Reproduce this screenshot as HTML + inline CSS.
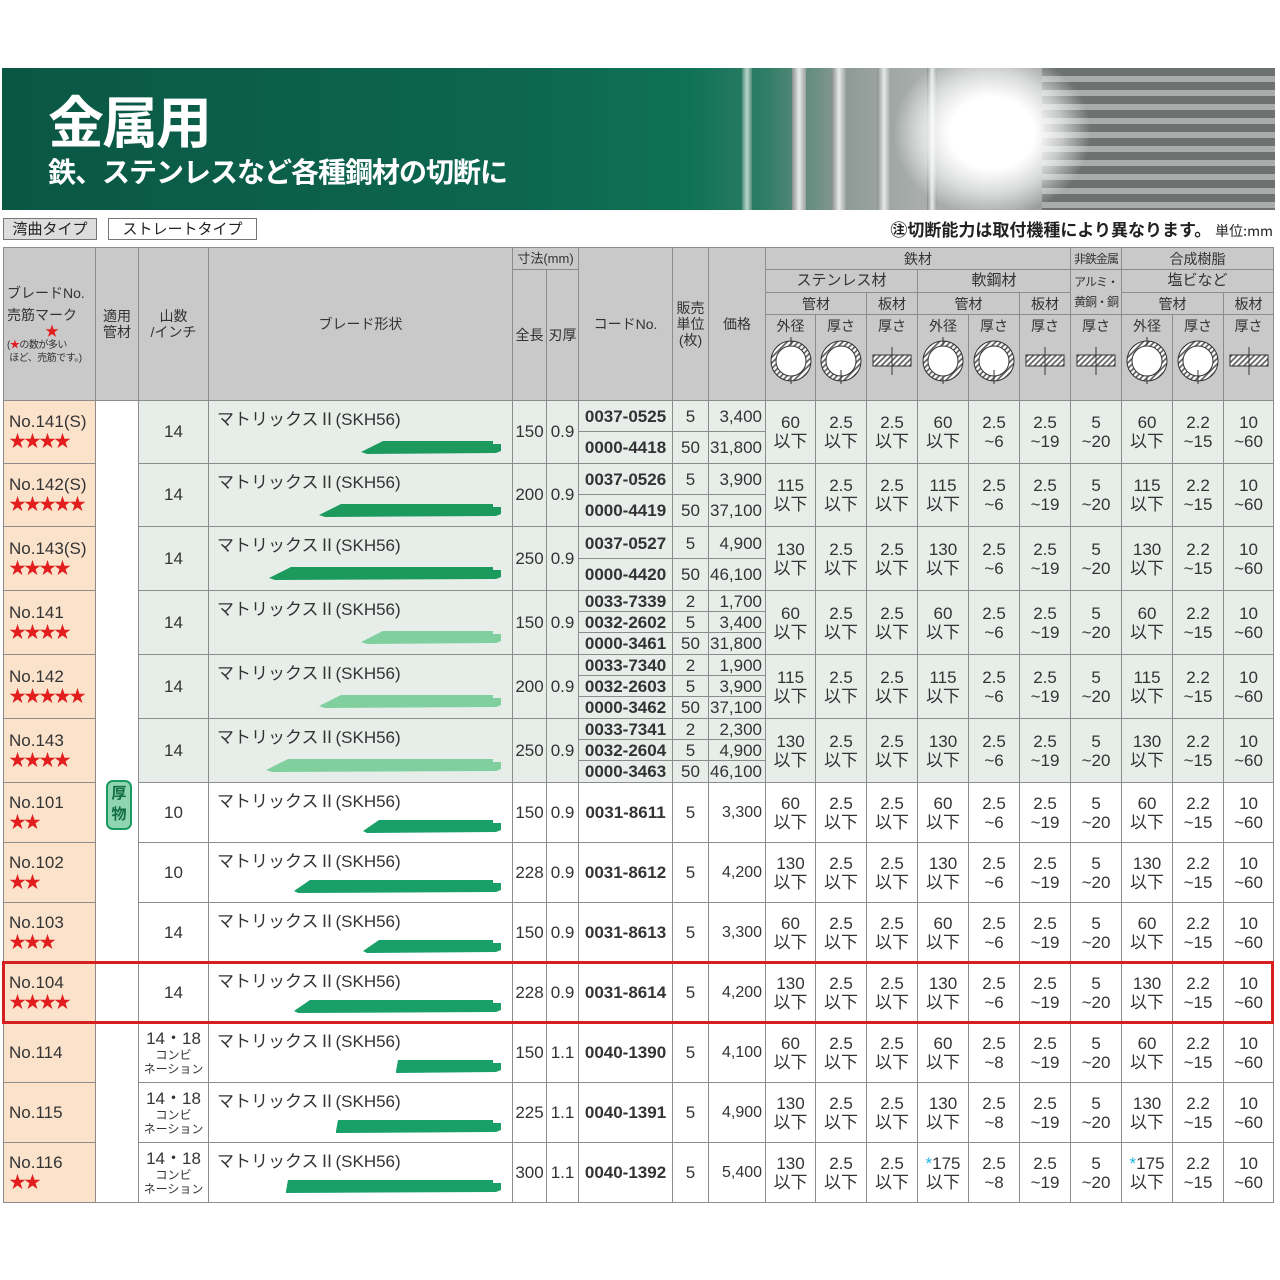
<!DOCTYPE html>
<html><head><meta charset="utf-8">
<style>
html,body{margin:0;padding:0;background:#fff;width:1280px;height:1280px;overflow:hidden;position:relative;font-family:"Liberation Sans","Noto Sans CJK JP",sans-serif;}
.banner{position:absolute;left:2px;top:68px;width:1273px;height:142px;background:linear-gradient(90deg,#0a5744 0%,#0d6650 40%,#0f7254 54%,#2f7d66 60%,#8d9995 66%,#a9aeac 72%,#9ea3a1 80%,#7e8281 88%,#8b8f8e 100%);overflow:hidden}
.hl{position:absolute;left:1040px;top:0;width:233px;height:142px;background:repeating-linear-gradient(180deg,#6d7170 0px,#6d7170 8px,#a8acab 8px,#a8acab 14px)}
.pipe{position:absolute;top:0;height:142px;width:14px;background:linear-gradient(90deg,#8a8f8d,#e6eae8,#9aa09d)}
.spot{position:absolute;left:890px;top:-20px;width:200px;height:170px;border-radius:50%;background:radial-gradient(#fff 0%,#fff 30%,rgba(255,255,255,.6) 50%,rgba(255,255,255,0) 70%)}
.t1{position:absolute;left:46px;top:20px;color:#fff;font-size:56px;font-weight:bold;font-family:"Noto Sans CJK JP",sans-serif;line-height:64px;letter-spacing:-2px}
.t2{position:absolute;left:46px;top:86px;color:#fff;font-size:28px;font-weight:bold;font-family:"Noto Sans CJK JP",sans-serif;line-height:34px;letter-spacing:-1px}
.btn{position:absolute;top:218px;height:20px;line-height:20px;border:1px solid #777;font-size:15px;text-align:center;color:#222;font-family:"Noto Sans CJK JP",sans-serif}
.note{position:absolute;top:216px;right:7px;font-size:17px;font-weight:bold;color:#222;font-family:"Noto Sans CJK JP",sans-serif;white-space:nowrap}
table{position:absolute;left:3px;top:247px;border-collapse:collapse;table-layout:fixed;width:1270px}
td,th{border:1px solid #8c8c8c;padding:0;text-align:center;vertical-align:middle;color:#333;font-weight:normal;font-family:"Liberation Sans","Noto Sans CJK JP",sans-serif;overflow:hidden}
th{background:#c9c9c9;font-size:14px;line-height:16px;white-space:nowrap}
td{font-size:17px}
.g td{background:#e7eee9}
td.no{background:#fbe2cb;text-align:left;padding-left:5px;font-size:17px;line-height:20px;vertical-align:middle}
.st{color:#e21d1d;font-size:17px;letter-spacing:-2px}
.v{line-height:19px;font-size:17px}
.bc{position:relative;text-align:left;vertical-align:top}
.bn{position:absolute;left:8px;top:4px;font-size:17px;white-space:nowrap}
.bl{position:absolute;left:0;width:300px;height:18px}
.code{font-weight:bold;font-size:17px}
.sub{border-bottom:1px solid #8c8c8c;box-sizing:border-box}
.sub:last-child{border-bottom:none}
.s2{height:31px;line-height:31px}
.s3{height:21px;line-height:21px}
.pr{text-align:right;padding-right:3px;font-size:16px}
.combo{font-size:17px;line-height:19px}
.combo small{font-size:12px;line-height:14px;display:block;font-family:"Noto Sans CJK JP",sans-serif}
.red{position:absolute;left:2px;top:961px;width:1266px;height:57px;border:3px solid #d61f1f}
.badge{position:absolute;left:106px;top:780px;width:22px;height:46px;border:2px solid #1a9a62;border-radius:7px;background:#8fd6b0;color:#0f6b42;font-size:15px;font-weight:bold;line-height:21px;text-align:center;font-family:"Noto Sans CJK JP",sans-serif}
.star{color:#1db5e0}
.ic{vertical-align:top;padding-top:3px}
.ic svg{display:block;margin:2px auto 0}
</style></head><body>
<svg width="0" height="0" style="position:absolute"><defs><pattern id="h" width="4" height="4" patternUnits="userSpaceOnUse" patternTransform="rotate(45)"><rect width="4" height="4" fill="#fff"/><line x1="1" y1="0" x2="1" y2="4" stroke="#555" stroke-width="1.6"/></pattern></defs></svg>

<div class="banner"><div class="hl"></div>
<div class="pipe" style="left:740px;width:10px;background:linear-gradient(90deg,#4f8c78,#b9d6cc,#4f8c78)"></div>
<div class="pipe" style="left:790px"></div><div class="pipe" style="left:830px"></div><div class="pipe" style="left:875px"></div><div class="pipe" style="left:925px;width:10px"></div>
<div class="spot"></div><div class="t1">金属用</div><div class="t2">鉄、ステンレスなど各種鋼材の切断に</div></div>
<div class="btn" style="left:3px;width:92px;background:#ddd">湾曲タイプ</div>
<div class="btn" style="left:108px;width:147px;background:#fff">ストレートタイプ</div>
<div class="note">㊟切断能力は取付機種により異なります。 <span style="font-size:14px;font-weight:normal">単位:mm</span></div>

<table>
<colgroup><col style="width:92px"><col style="width:43px"><col style="width:70px"><col style="width:304px"><col style="width:34px"><col style="width:32px"><col style="width:94px"><col style="width:36px"><col style="width:57px"><col style="width:50px"><col style="width:51px"><col style="width:51px"><col style="width:51px"><col style="width:51px"><col style="width:51px"><col style="width:51px"><col style="width:51px"><col style="width:51px"><col style="width:50px"></colgroup>
<tr style="height:22px">
<th rowspan="4" style="text-align:left;padding-left:3px;font-size:14px;line-height:18px">ブレードNo.<br><span style="display:inline-block;margin-top:4px">売筋マーク</span><br><span class="st" style="display:block;text-align:center;font-size:14px;line-height:15px">★</span><span style="font-size:10px;line-height:13px;display:block;letter-spacing:-0.5px">(<span style="color:#e21d1d">★</span>の数が多い<br>&nbsp;ほど、売筋です。)</span></th>
<th rowspan="4">適用<br>管材</th>
<th rowspan="4">山数<br>/インチ</th>
<th rowspan="4">ブレード形状</th>
<th colspan="2" style="font-size:13px">寸法(mm)</th>
<th rowspan="4">コードNo.</th>
<th rowspan="4">販売<br>単位<br>(枚)</th>
<th rowspan="4">価格</th>
<th colspan="6">鉄材</th>
<th style="font-size:12px;letter-spacing:-1px">非鉄金属</th>
<th colspan="3">合成樹脂</th>
</tr>
<tr style="height:23px">
<th rowspan="3">全長</th><th rowspan="3">刃厚</th>
<th colspan="3" style="font-size:15px">ステンレス材</th><th colspan="3" style="font-size:15px">軟鋼材</th>
<th rowspan="2" style="font-size:12px;line-height:20px;letter-spacing:-1px">アルミ・<br>黄銅・銅</th>
<th colspan="3" style="font-size:15px">塩ビなど</th>
</tr>
<tr style="height:22px">
<th colspan="2">管材</th><th>板材</th><th colspan="2">管材</th><th>板材</th><th colspan="2">管材</th><th>板材</th>
</tr>
<tr style="height:86px">
<th class="ic">外径<svg width="44" height="48"><circle cx="22" cy="25" r="20" fill="url(#h)" stroke="#333"/><circle cx="22" cy="25" r="15" fill="#fff" stroke="#333"/><line x1="22" y1="1" x2="22" y2="9" stroke="#333"/><line x1="22" y1="42" x2="22" y2="48" stroke="#333"/></svg></th>
<th class="ic">厚さ<svg width="44" height="48"><circle cx="22" cy="25" r="20" fill="url(#h)" stroke="#333"/><circle cx="22" cy="25" r="15" fill="#fff" stroke="#333"/><line x1="22" y1="34" x2="22" y2="48" stroke="#333"/></svg></th>
<th class="ic">厚さ<svg width="44" height="48"><rect x="3" y="19" width="38" height="11" fill="url(#h)" stroke="#333"/><line x1="22" y1="11" x2="22" y2="39" stroke="#333"/></svg></th>
<th class="ic">外径<svg width="44" height="48"><circle cx="22" cy="25" r="20" fill="url(#h)" stroke="#333"/><circle cx="22" cy="25" r="15" fill="#fff" stroke="#333"/><line x1="22" y1="1" x2="22" y2="9" stroke="#333"/><line x1="22" y1="42" x2="22" y2="48" stroke="#333"/></svg></th>
<th class="ic">厚さ<svg width="44" height="48"><circle cx="22" cy="25" r="20" fill="url(#h)" stroke="#333"/><circle cx="22" cy="25" r="15" fill="#fff" stroke="#333"/><line x1="22" y1="34" x2="22" y2="48" stroke="#333"/></svg></th>
<th class="ic">厚さ<svg width="44" height="48"><rect x="3" y="19" width="38" height="11" fill="url(#h)" stroke="#333"/><line x1="22" y1="11" x2="22" y2="39" stroke="#333"/></svg></th>
<th class="ic">厚さ<svg width="44" height="48"><rect x="3" y="19" width="38" height="11" fill="url(#h)" stroke="#333"/><line x1="22" y1="11" x2="22" y2="39" stroke="#333"/></svg></th>
<th class="ic">外径<svg width="44" height="48"><circle cx="22" cy="25" r="20" fill="url(#h)" stroke="#333"/><circle cx="22" cy="25" r="15" fill="#fff" stroke="#333"/><line x1="22" y1="1" x2="22" y2="9" stroke="#333"/><line x1="22" y1="42" x2="22" y2="48" stroke="#333"/></svg></th>
<th class="ic">厚さ<svg width="44" height="48"><circle cx="22" cy="25" r="20" fill="url(#h)" stroke="#333"/><circle cx="22" cy="25" r="15" fill="#fff" stroke="#333"/><line x1="22" y1="34" x2="22" y2="48" stroke="#333"/></svg></th>
<th class="ic">厚さ<svg width="44" height="48"><rect x="3" y="19" width="38" height="11" fill="url(#h)" stroke="#333"/><line x1="22" y1="11" x2="22" y2="39" stroke="#333"/></svg></th>
</tr>

<tr class="g" style="height:63px">
<td class="no">No.141(S)<br><span class="st">★★★★</span></td>
<td rowspan="13" style="background:#fff"></td>
<td>14</td>
<td class="bc"><span class="bn">マトリックスⅡ(SKH56)</span><svg class="bl" style="top:37px" viewBox="0 0 300 18"><polygon points="152,14 174,3 284,3 284,6 292,6 292,13 287,15 158,16" fill="#1c9a5e"/></svg></td>
<td>150</td><td>0.9</td>
<td class="code"><div class="sub s2">0037-0525</div><div class="sub s2">0000-4418</div></td>
<td><div class="sub s2">5</div><div class="sub s2">50</div></td>
<td style="padding:0"><div class="sub s2" style="text-align:right;padding-right:3px">3,400</div><div class="sub s2" style="text-align:right;padding-right:3px">31,800</div></td>
<td class="v">60<br>以下</td><td class="v">2.5<br>以下</td><td class="v">2.5<br>以下</td><td class="v">60<br>以下</td><td class="v">2.5<br>~6</td><td class="v">2.5<br>~19</td><td class="v">5<br>~20</td><td class="v">60<br>以下</td><td class="v">2.2<br>~15</td><td class="v">10<br>~60</td>
</tr>
<tr class="g" style="height:63px">
<td class="no">No.142(S)<br><span class="st">★★★★★</span></td>
<td>14</td>
<td class="bc"><span class="bn">マトリックスⅡ(SKH56)</span><svg class="bl" style="top:37px" viewBox="0 0 300 18"><polygon points="110,14 132,3 284,3 284,6 292,6 292,13 287,15 116,16" fill="#1c9a5e"/></svg></td>
<td>200</td><td>0.9</td>
<td class="code"><div class="sub s2">0037-0526</div><div class="sub s2">0000-4419</div></td>
<td><div class="sub s2">5</div><div class="sub s2">50</div></td>
<td style="padding:0"><div class="sub s2" style="text-align:right;padding-right:3px">3,900</div><div class="sub s2" style="text-align:right;padding-right:3px">37,100</div></td>
<td class="v">115<br>以下</td><td class="v">2.5<br>以下</td><td class="v">2.5<br>以下</td><td class="v">115<br>以下</td><td class="v">2.5<br>~6</td><td class="v">2.5<br>~19</td><td class="v">5<br>~20</td><td class="v">115<br>以下</td><td class="v">2.2<br>~15</td><td class="v">10<br>~60</td>
</tr>
<tr class="g" style="height:64px">
<td class="no">No.143(S)<br><span class="st">★★★★</span></td>
<td>14</td>
<td class="bc"><span class="bn">マトリックスⅡ(SKH56)</span><svg class="bl" style="top:37px" viewBox="0 0 300 18"><polygon points="60,14 82,3 284,3 284,6 292,6 292,13 287,15 66,16" fill="#1c9a5e"/></svg></td>
<td>250</td><td>0.9</td>
<td class="code"><div class="sub s2">0037-0527</div><div class="sub s2">0000-4420</div></td>
<td><div class="sub s2">5</div><div class="sub s2">50</div></td>
<td style="padding:0"><div class="sub s2" style="text-align:right;padding-right:3px">4,900</div><div class="sub s2" style="text-align:right;padding-right:3px">46,100</div></td>
<td class="v">130<br>以下</td><td class="v">2.5<br>以下</td><td class="v">2.5<br>以下</td><td class="v">130<br>以下</td><td class="v">2.5<br>~6</td><td class="v">2.5<br>~19</td><td class="v">5<br>~20</td><td class="v">130<br>以下</td><td class="v">2.2<br>~15</td><td class="v">10<br>~60</td>
</tr>
<tr class="g" style="height:63px">
<td class="no">No.141<br><span class="st">★★★★</span></td>
<td>14</td>
<td class="bc"><span class="bn">マトリックスⅡ(SKH56)</span><svg class="bl" style="top:37px" viewBox="0 0 300 18"><polygon points="152,14 174,3 284,3 284,6 292,6 292,13 287,15 158,16" fill="#7fcf9f"/></svg></td>
<td>150</td><td>0.9</td>
<td class="code"><div class="sub s3">0033-7339</div><div class="sub s3">0032-2602</div><div class="sub s3">0000-3461</div></td>
<td><div class="sub s3">2</div><div class="sub s3">5</div><div class="sub s3">50</div></td>
<td style="padding:0"><div class="sub s3" style="text-align:right;padding-right:3px">1,700</div><div class="sub s3" style="text-align:right;padding-right:3px">3,400</div><div class="sub s3" style="text-align:right;padding-right:3px">31,800</div></td>
<td class="v">60<br>以下</td><td class="v">2.5<br>以下</td><td class="v">2.5<br>以下</td><td class="v">60<br>以下</td><td class="v">2.5<br>~6</td><td class="v">2.5<br>~19</td><td class="v">5<br>~20</td><td class="v">60<br>以下</td><td class="v">2.2<br>~15</td><td class="v">10<br>~60</td>
</tr>
<tr class="g" style="height:64px">
<td class="no">No.142<br><span class="st">★★★★★</span></td>
<td>14</td>
<td class="bc"><span class="bn">マトリックスⅡ(SKH56)</span><svg class="bl" style="top:37px" viewBox="0 0 300 18"><polygon points="110,14 132,3 284,3 284,6 292,6 292,13 287,15 116,16" fill="#7fcf9f"/></svg></td>
<td>200</td><td>0.9</td>
<td class="code"><div class="sub s3">0033-7340</div><div class="sub s3">0032-2603</div><div class="sub s3">0000-3462</div></td>
<td><div class="sub s3">2</div><div class="sub s3">5</div><div class="sub s3">50</div></td>
<td style="padding:0"><div class="sub s3" style="text-align:right;padding-right:3px">1,900</div><div class="sub s3" style="text-align:right;padding-right:3px">3,900</div><div class="sub s3" style="text-align:right;padding-right:3px">37,100</div></td>
<td class="v">115<br>以下</td><td class="v">2.5<br>以下</td><td class="v">2.5<br>以下</td><td class="v">115<br>以下</td><td class="v">2.5<br>~6</td><td class="v">2.5<br>~19</td><td class="v">5<br>~20</td><td class="v">115<br>以下</td><td class="v">2.2<br>~15</td><td class="v">10<br>~60</td>
</tr>
<tr class="g" style="height:63px">
<td class="no">No.143<br><span class="st">★★★★</span></td>
<td>14</td>
<td class="bc"><span class="bn">マトリックスⅡ(SKH56)</span><svg class="bl" style="top:37px" viewBox="0 0 300 18"><polygon points="57,14 79,3 284,3 284,6 292,6 292,13 287,15 63,16" fill="#7fcf9f"/></svg></td>
<td>250</td><td>0.9</td>
<td class="code"><div class="sub s3">0033-7341</div><div class="sub s3">0032-2604</div><div class="sub s3">0000-3463</div></td>
<td><div class="sub s3">2</div><div class="sub s3">5</div><div class="sub s3">50</div></td>
<td style="padding:0"><div class="sub s3" style="text-align:right;padding-right:3px">2,300</div><div class="sub s3" style="text-align:right;padding-right:3px">4,900</div><div class="sub s3" style="text-align:right;padding-right:3px">46,100</div></td>
<td class="v">130<br>以下</td><td class="v">2.5<br>以下</td><td class="v">2.5<br>以下</td><td class="v">130<br>以下</td><td class="v">2.5<br>~6</td><td class="v">2.5<br>~19</td><td class="v">5<br>~20</td><td class="v">130<br>以下</td><td class="v">2.2<br>~15</td><td class="v">10<br>~60</td>
</tr>
<tr style="height:60px">
<td class="no">No.101<br><span class="st">★★</span></td>
<td>10</td>
<td class="bc"><span class="bn">マトリックスⅡ(SKH56)</span><svg class="bl" style="top:34px" viewBox="0 0 300 18"><polygon points="154,14 170,3 284,3 284,6 292,6 292,13 287,15 158,16" fill="#18a068"/></svg></td>
<td>150</td><td>0.9</td>
<td class="code">0031-8611</td><td>5</td><td class="pr">3,300</td>
<td class="v">60<br>以下</td><td class="v">2.5<br>以下</td><td class="v">2.5<br>以下</td><td class="v">60<br>以下</td><td class="v">2.5<br>~6</td><td class="v">2.5<br>~19</td><td class="v">5<br>~20</td><td class="v">60<br>以下</td><td class="v">2.2<br>~15</td><td class="v">10<br>~60</td>
</tr>
<tr style="height:60px">
<td class="no">No.102<br><span class="st">★★</span></td>
<td>10</td>
<td class="bc"><span class="bn">マトリックスⅡ(SKH56)</span><svg class="bl" style="top:34px" viewBox="0 0 300 18"><polygon points="85,14 101,3 284,3 284,6 292,6 292,13 287,15 89,16" fill="#18a068"/></svg></td>
<td>228</td><td>0.9</td>
<td class="code">0031-8612</td><td>5</td><td class="pr">4,200</td>
<td class="v">130<br>以下</td><td class="v">2.5<br>以下</td><td class="v">2.5<br>以下</td><td class="v">130<br>以下</td><td class="v">2.5<br>~6</td><td class="v">2.5<br>~19</td><td class="v">5<br>~20</td><td class="v">130<br>以下</td><td class="v">2.2<br>~15</td><td class="v">10<br>~60</td>
</tr>
<tr style="height:60px">
<td class="no">No.103<br><span class="st">★★★</span></td>
<td>14</td>
<td class="bc"><span class="bn">マトリックスⅡ(SKH56)</span><svg class="bl" style="top:34px" viewBox="0 0 300 18"><polygon points="154,14 170,3 284,3 284,6 292,6 292,13 287,15 158,16" fill="#18a068"/></svg></td>
<td>150</td><td>0.9</td>
<td class="code">0031-8613</td><td>5</td><td class="pr">3,300</td>
<td class="v">60<br>以下</td><td class="v">2.5<br>以下</td><td class="v">2.5<br>以下</td><td class="v">60<br>以下</td><td class="v">2.5<br>~6</td><td class="v">2.5<br>~19</td><td class="v">5<br>~20</td><td class="v">60<br>以下</td><td class="v">2.2<br>~15</td><td class="v">10<br>~60</td>
</tr>
<tr style="height:60px">
<td class="no">No.104<br><span class="st">★★★★</span></td>
<td>14</td>
<td class="bc"><span class="bn">マトリックスⅡ(SKH56)</span><svg class="bl" style="top:34px" viewBox="0 0 300 18"><polygon points="85,14 101,3 284,3 284,6 292,6 292,13 287,15 89,16" fill="#18a068"/></svg></td>
<td>228</td><td>0.9</td>
<td class="code">0031-8614</td><td>5</td><td class="pr">4,200</td>
<td class="v">130<br>以下</td><td class="v">2.5<br>以下</td><td class="v">2.5<br>以下</td><td class="v">130<br>以下</td><td class="v">2.5<br>~6</td><td class="v">2.5<br>~19</td><td class="v">5<br>~20</td><td class="v">130<br>以下</td><td class="v">2.2<br>~15</td><td class="v">10<br>~60</td>
</tr>
<tr style="height:60px">
<td class="no">No.114</td>
<td class="combo">14・18<small>コンビ<br>ネーション</small></td>
<td class="bc"><span class="bn">マトリックスⅡ(SKH56)</span><svg class="bl" style="top:34px" viewBox="0 0 300 18"><polygon points="187,14 189,3 284,3 284,6 292,6 292,13 287,15 187,16" fill="#18a068"/></svg></td>
<td>150</td><td>1.1</td>
<td class="code">0040-1390</td><td>5</td><td class="pr">4,100</td>
<td class="v">60<br>以下</td><td class="v">2.5<br>以下</td><td class="v">2.5<br>以下</td><td class="v">60<br>以下</td><td class="v">2.5<br>~8</td><td class="v">2.5<br>~19</td><td class="v">5<br>~20</td><td class="v">60<br>以下</td><td class="v">2.2<br>~15</td><td class="v">10<br>~60</td>
</tr>
<tr style="height:60px">
<td class="no">No.115</td>
<td class="combo">14・18<small>コンビ<br>ネーション</small></td>
<td class="bc"><span class="bn">マトリックスⅡ(SKH56)</span><svg class="bl" style="top:34px" viewBox="0 0 300 18"><polygon points="127,14 129,3 284,3 284,6 292,6 292,13 287,15 127,16" fill="#18a068"/></svg></td>
<td>225</td><td>1.1</td>
<td class="code">0040-1391</td><td>5</td><td class="pr">4,900</td>
<td class="v">130<br>以下</td><td class="v">2.5<br>以下</td><td class="v">2.5<br>以下</td><td class="v">130<br>以下</td><td class="v">2.5<br>~8</td><td class="v">2.5<br>~19</td><td class="v">5<br>~20</td><td class="v">130<br>以下</td><td class="v">2.2<br>~15</td><td class="v">10<br>~60</td>
</tr>
<tr style="height:60px">
<td class="no">No.116<br><span class="st">★★</span></td>
<td class="combo">14・18<small>コンビ<br>ネーション</small></td>
<td class="bc"><span class="bn">マトリックスⅡ(SKH56)</span><svg class="bl" style="top:34px" viewBox="0 0 300 18"><polygon points="77,14 79,3 284,3 284,6 292,6 292,13 287,15 77,16" fill="#18a068"/></svg></td>
<td>300</td><td>1.1</td>
<td class="code">0040-1392</td><td>5</td><td class="pr">5,400</td>
<td class="v">130<br>以下</td><td class="v">2.5<br>以下</td><td class="v">2.5<br>以下</td><td class="v"><span class="star">*</span>175<br>以下</td><td class="v">2.5<br>~8</td><td class="v">2.5<br>~19</td><td class="v">5<br>~20</td><td class="v"><span class="star">*</span>175<br>以下</td><td class="v">2.2<br>~15</td><td class="v">10<br>~60</td>
</tr>
</table>
<div class="badge">厚<br>物</div>
<div class="red"></div>
</body></html>
